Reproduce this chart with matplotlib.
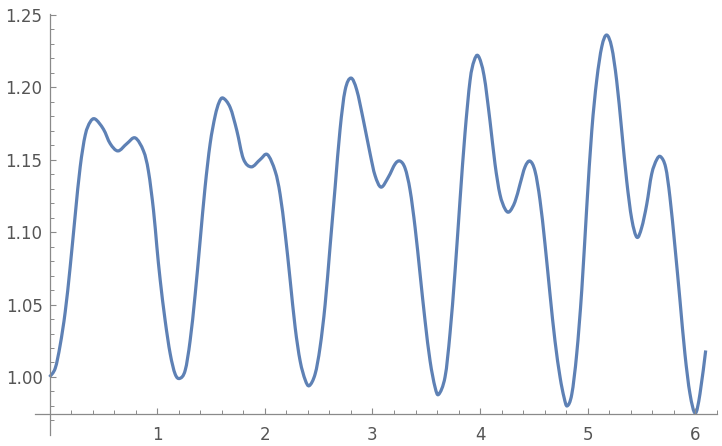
import matplotlib
matplotlib.use("Agg")
import matplotlib.pyplot as plt
from matplotlib.path import Path
from matplotlib.patches import PathPatch
from matplotlib.ticker import MultipleLocator, FixedLocator, FormatStrFormatter

# Points
x_vals = [0.000, 0.053, 0.099, 0.146, 0.192, 0.239, 0.285, 0.332, 0.378, 0.424,
          0.501, 0.564, 0.636, 0.718, 0.796, 0.873, 0.919, 0.966, 0.997, 1.028,
          1.074, 1.121, 1.167, 1.210, 1.260, 1.306, 1.353, 1.399, 1.445, 1.492,
          1.538, 1.575, 1.612, 1.678, 1.740, 1.801, 1.875, 1.956, 2.024, 2.096,
          2.142, 2.189, 2.235, 2.282, 2.328, 2.375, 2.413, 2.467, 2.513, 2.560,
          2.606, 2.653, 2.699, 2.746, 2.800, 2.854, 2.916, 2.978, 3.024, 3.080,
          3.148, 3.210, 3.256, 3.303, 3.349, 3.396, 3.442, 3.488, 3.535, 3.581,
          3.615, 3.674, 3.720, 3.767, 3.813, 3.859, 3.906, 3.943, 3.983, 4.036,
          4.091, 4.138, 4.184, 4.231, 4.271, 4.324, 4.370, 4.417, 4.463, 4.510,
          4.556, 4.602, 4.649, 4.695, 4.742, 4.779, 4.808, 4.851, 4.897, 4.944,
          4.990, 5.037, 5.083, 5.130, 5.175, 5.222, 5.268, 5.315, 5.361, 5.408,
          5.456, 5.500, 5.547, 5.593, 5.640, 5.677, 5.723, 5.763, 5.810, 5.856,
          5.902, 5.949, 5.998, 6.042, 6.095]
y_vals = [1.000, 1.006, 1.022, 1.045, 1.076, 1.112, 1.145, 1.167, 1.176, 1.178,
          1.171, 1.161, 1.156, 1.161, 1.165, 1.156, 1.142, 1.115, 1.090, 1.067,
          1.039, 1.016, 1.002, 0.999, 1.0045, 1.025, 1.057, 1.094, 1.131, 1.161,
          1.180, 1.1895, 1.1925, 1.186, 1.170, 1.1505, 1.145, 1.150, 1.1535, 1.142,
          1.126, 1.099, 1.067, 1.034, 1.011, 0.998, 0.994, 1.002, 1.0205, 1.050,
          1.090, 1.131, 1.171, 1.198, 1.2063, 1.198, 1.177, 1.154, 1.139, 1.131,
          1.138, 1.147, 1.149, 1.144, 1.129, 1.103, 1.071, 1.039, 1.011, 0.993,
          0.988, 1.000, 1.030, 1.073, 1.122, 1.168, 1.2045, 1.218, 1.2215, 1.208,
          1.177, 1.147, 1.126, 1.116, 1.114, 1.121, 1.133, 1.145, 1.149, 1.142,
          1.122, 1.092, 1.057, 1.025, 1.000, 0.986, 0.980, 0.988, 1.016, 1.060,
          1.117, 1.170, 1.205, 1.228, 1.2360, 1.2275, 1.2045, 1.170, 1.1355, 1.109,
          1.0964, 1.103, 1.119, 1.140, 1.150, 1.152, 1.1447, 1.124, 1.0895, 1.053,
          1.016, 0.9884, 0.975, 0.9884, 1.0183]

x_ticks = [1, 2, 3, 4, 5, 6]
y_ticks = [1.00, 1.05, 1.10, 1.15, 1.20, 1.25]

W, H = 722, 446
fig = plt.figure(figsize=(W / 100, H / 100), dpi=100)
x0, x1 = -0.132, 6.2
y0, y1 = 0.9603, 1.2505
left = 35.3 / W
right = 717.0 / W
bottom = (H - 434.5) / H
top = (H - 14.0) / H
ax = fig.add_axes([left, bottom, right - left, top - bottom])

# Smooth line through the read points (Catmull-Rom rendered as cubic Beziers)
pts = list(zip(x_vals, y_vals))
n = len(pts)
verts = [pts[0]]
codes = [Path.MOVETO]
for i in range(n - 1):
    p0 = pts[i - 1] if i > 0 else pts[i]
    p1 = pts[i]
    p2 = pts[i + 1]
    p3 = pts[i + 2] if i + 2 < n else pts[i + 1]
    c1 = (p1[0] + (p2[0] - p0[0]) / 6.0, p1[1] + (p2[1] - p0[1]) / 6.0)
    c2 = (p2[0] - (p3[0] - p1[0]) / 6.0, p2[1] - (p3[1] - p1[1]) / 6.0)
    verts += [c1, c2, p2]
    codes += [Path.CURVE4, Path.CURVE4, Path.CURVE4]
ax.add_patch(PathPatch(Path(verts, codes), fill=False, edgecolor="#5E81B5",
                       lw=2.3, joinstyle="round", capstyle="butt"))

ax.set_xlim(x0, x1)
ax.set_ylim(y0, y1)

axis_col = "#8a8a8a"
for s in ["top", "right"]:
    ax.spines[s].set_visible(False)
ax.spines["left"].set_position(("data", 0.0))
ax.spines["bottom"].set_position(("data", 0.9745))
for s in ["left", "bottom"]:
    ax.spines[s].set_color(axis_col)
    ax.spines[s].set_linewidth(0.9)

ax.xaxis.set_major_locator(FixedLocator(x_ticks))
ax.xaxis.set_minor_locator(MultipleLocator(0.2))
ax.yaxis.set_major_locator(FixedLocator(y_ticks))
ax.yaxis.set_minor_locator(MultipleLocator(0.01))
ax.yaxis.set_major_formatter(FormatStrFormatter("%.2f"))

ax.tick_params(axis="both", which="major", direction="in", length=4.2,
               width=0.8, color=axis_col, labelsize=12, labelcolor="#555555")
ax.tick_params(axis="both", which="minor", direction="in", length=2.6,
               width=0.7, color=axis_col)
ax.tick_params(axis="x", which="major", pad=9)
ax.tick_params(axis="y", which="major", pad=5)

for lab in ax.get_xticklabels() + ax.get_yticklabels():
    lab.set_family("DejaVu Sans")

fig.savefig("out.png", dpi=100)
